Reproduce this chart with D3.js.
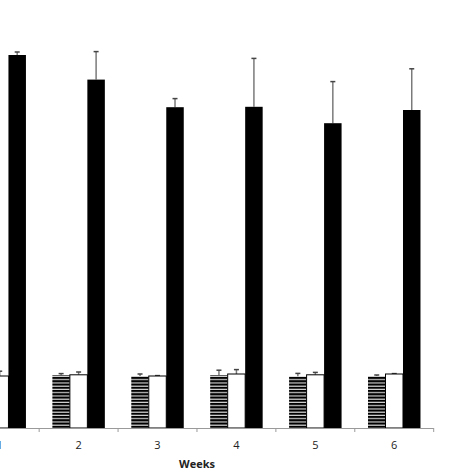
<!DOCTYPE html>
<html>
<head>
  <meta charset="utf-8">
  <script src="https://d3js.org/d3.v7.min.js"></script>
  <style>
    body { margin: 0; background: #fff; }
    svg { display: block; font-family: "Open Sans", sans-serif; }
  </style>
</head>
<body>
<script>
// weeks on the x axis, three groups per week
var weeks = [1, 2, 3, 4, 5, 6];
var groups = ["striped", "white", "black"];

// bar heights (arbitrary units, y axis is cut off in the original)
var stripedVals = [13.0, 13.2, 13.0, 13.2, 12.9, 13.0];
var stripedErr  = [0.5, 0.4, 0.5, 1.25, 0.75, 0.25];
var whiteVals   = [13.0, 13.3, 13.0, 13.5, 13.3, 13.5];
var whiteErr    = [1.2, 0.7, 0.1, 1.1, 0.6, 0.1];
var blackVals   = [93.25, 87.1, 80.2, 80.3, 76.2, 79.5];
var blackErr    = [0.75, 7.0, 2.15, 12.1, 10.4, 10.3];

var W = 474, H = 474;
var svg = d3.select("body").append("svg").attr("width", W).attr("height", H);

var defs = svg.append("defs");
var pat = defs.append("pattern")
  .attr("id", "stripes")
  .attr("patternUnits", "userSpaceOnUse")
  .attr("width", 20).attr("height", 3.25);
pat.append("rect").attr("width", 20).attr("height", 3.25).attr("fill", "#ddd");
pat.append("rect").attr("width", 20).attr("height", 2.1).attr("fill", "#000");

// plot area starts left of the visible window (chart was cropped)
var x = d3.scaleBand().domain(weeks).range([-39.75, 433.7])
  .paddingInner(0.335).paddingOuter(0.1675);
var xs = d3.scaleBand().domain(groups).range([0, x.bandwidth()]);
var y = d3.scaleLinear().domain([0, 100]).range([428, 28]);

var rows = weeks.map(function (w, i) {
  return [
    { week: w, g: "striped", v: stripedVals[i], e: stripedErr[i] },
    { week: w, g: "white", v: whiteVals[i], e: whiteErr[i] },
    { week: w, g: "black", v: blackVals[i], e: blackErr[i] }
  ];
});
var flat = [].concat.apply([], rows);

var fills = { striped: "url(#stripes)", white: "#fff", black: "#000" };

// error bars first so the bar tops sit above them
var err = svg.append("g").selectAll("g").data(flat).enter().append("g");
err.append("line")
  .attr("x1", function (d) { return x(d.week) + xs(d.g) + xs.bandwidth() / 2; })
  .attr("x2", function (d) { return x(d.week) + xs(d.g) + xs.bandwidth() / 2; })
  .attr("y1", function (d) { return y(d.v); })
  .attr("y2", function (d) { return y(d.v + d.e); })
  .attr("stroke", "#7a7a7a").attr("stroke-width", 1.5);
err.append("line")
  .attr("x1", function (d) { return x(d.week) + xs(d.g) + xs.bandwidth() / 2 - 2.5; })
  .attr("x2", function (d) { return x(d.week) + xs(d.g) + xs.bandwidth() / 2 + 2.5; })
  .attr("y1", function (d) { return y(d.v + d.e); })
  .attr("y2", function (d) { return y(d.v + d.e); })
  .attr("stroke", "#444").attr("stroke-width", 1.5);

svg.append("g").selectAll("rect").data(flat).enter().append("rect")
  .attr("x", function (d) { return x(d.week) + xs(d.g); })
  .attr("y", function (d) { return y(d.v); })
  .attr("width", xs.bandwidth())
  .attr("height", function (d) { return y(0) - y(d.v); })
  .attr("fill", function (d) { return fills[d.g]; })
  .attr("stroke", function (d) { return d.g === "white" ? "#000" : "none"; })
  .attr("stroke-width", 1);

// x axis: gray line, ticks between categories
var axis = svg.append("g");
axis.append("line")
  .attr("x1", x.range()[0]).attr("x2", x.range()[1])
  .attr("y1", y(0) + 0.5).attr("y2", y(0) + 0.5)
  .attr("stroke", "#9a9a9a").attr("stroke-width", 1.2);
var bounds = weeks.map(function (w) { return x(w) + x.bandwidth() + x.step() * x.paddingInner() / 2; });
axis.selectAll(".tk").data(bounds).enter().append("line")
  .attr("x1", function (d) { return d; }).attr("x2", function (d) { return d; })
  .attr("y1", y(0)).attr("y2", y(0) + 4)
  .attr("stroke", "#9a9a9a").attr("stroke-width", 1);
axis.selectAll("text").data(weeks).enter().append("text")
  .attr("x", function (d) { return x(d) + x.bandwidth() / 2; })
  .attr("y", 449)
  .attr("text-anchor", "middle")
  .attr("font-size", 11)
  .attr("fill", "#222")
  .text(function (d) { return d; });

svg.append("text")
  .attr("x", (x.range()[0] + x.range()[1]) / 2)
  .attr("y", 468)
  .attr("text-anchor", "middle")
  .attr("font-size", 11)
  .attr("font-weight", "bold")
  .attr("fill", "#222")
  .text("Weeks");
</script>
</body>
</html>
